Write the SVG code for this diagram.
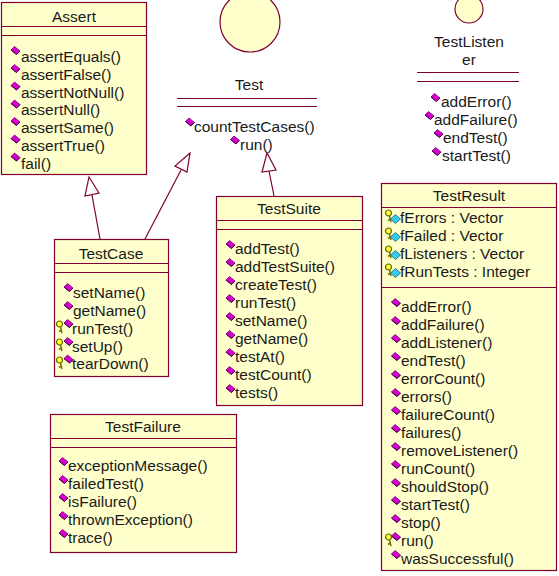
<svg xmlns="http://www.w3.org/2000/svg" width="559" height="576" viewBox="0 0 559 576">
<style>
.b{fill:#ffffcc;stroke:#800033;stroke-width:1.2}
.l{fill:none;stroke:#800033;stroke-width:1.2}
.h{fill:#fff;stroke:#800033;stroke-width:1.2}
text{font-family:"Liberation Sans",Arial,sans-serif;font-size:15.5px;fill:#1a1a1a}
.c{text-anchor:middle}
</style>
<defs>
<g id="op"><path d="M-4,0 L-0.500,-3.500 L5,1 L1.500,4.500 Z" fill="#d800d0" stroke="#700070" stroke-width="0.8"/><path d="M-4,0 L1.500,4.500 L5,1" fill="none" stroke="#400040" stroke-width="1"/></g>
<g id="attr"><path d="M-5,0 L0,-4.500 L5,0 L0,4.500 Z" fill="#33ccf0" stroke="#106080" stroke-width="0.8"/></g>
<g id="key"><circle cx="-0.500" cy="-3" r="3" fill="#ffff33" stroke="#666600" stroke-width="1.200"/><path d="M0.500,0 L2,6 M1.500,3 L-1,4.500" fill="none" stroke="#777700" stroke-width="1.600"/></g>
</defs>
<g id="connectors">
<path class="l" d="M100,239 L92,195"/><path class="h" d="M89,177 L85,196 L99,193 Z"/>
<path class="l" d="M145,239 L181,170"/><path class="h" d="M190,153 L175,166 L187,172 Z"/>
<path class="l" d="M274,196 L269,171"/><path class="h" d="M267,153 L262,172 L276,170 Z"/>
</g>
<g id="Assert">
<rect class="b" x="1.500" y="2.500" width="145" height="172"/>
<path class="l" d="M1.500,26.500H146.500M1.500,35.500H146.500"/>
<text class="c" x="74" y="22">Assert</text>
<use href="#op" x="15" y="50"/><text x="21" y="62">assertEquals()</text>
<use href="#op" x="15" y="68"/><text x="21" y="79.500">assertFalse()</text>
<use href="#op" x="15" y="85.500"/><text x="21" y="97.500">assertNotNull()</text>
<use href="#op" x="15" y="103.500"/><text x="21" y="115">assertNull()</text>
<use href="#op" x="15" y="121"/><text x="21" y="133">assertSame()</text>
<use href="#op" x="15" y="138.500"/><text x="21" y="151">assertTrue()</text>
<use href="#op" x="15" y="156.500"/><text x="21" y="168.500">fail()</text>
</g>
<g id="Test">
<circle class="b" cx="250" cy="22" r="30"/>
<path class="l" d="M177,98.500H317M177,106.500H317"/>
<text class="c" x="249" y="90">Test</text>
<use href="#op" x="189.500" y="121.500"/><text x="194" y="132">countTestCases()</text>
<use href="#op" x="234.500" y="139.500"/><text x="240" y="150">run()</text>
</g>
<g id="TestListener">
<circle class="b" cx="469" cy="9" r="14"/>
<text class="c" x="469" y="47">TestListen</text>
<text class="c" x="469" y="65">er</text>
<path class="l" d="M417,72.500H519M417,81.500H519"/>
<use href="#op" x="435" y="97"/><text x="441" y="106.500">addError()</text>
<use href="#op" x="429" y="115"/><text x="434" y="125">addFailure()</text>
<use href="#op" x="438" y="133"/><text x="443" y="143">endTest()</text>
<use href="#op" x="436" y="151"/><text x="442" y="161">startTest()</text>
</g>
<g id="TestCase">
<rect class="b" x="54.500" y="239.500" width="114" height="137"/>
<path class="l" d="M54.500,263.500H168.500M54.500,272.500H168.500"/>
<text class="c" x="111" y="259">TestCase</text>
<use href="#op" x="68" y="287"/><text x="73" y="298">setName()</text>
<use href="#op" x="68" y="305"/><text x="73" y="316">getName()</text>
<use href="#key" x="60" y="327"/><use href="#op" x="68" y="323"/><text x="72" y="333.500">runTest()</text>
<use href="#key" x="60" y="345"/><use href="#op" x="68" y="341"/><text x="72" y="351.500">setUp()</text>
<use href="#key" x="60" y="363"/><use href="#op" x="68" y="358.500"/><text x="72" y="369">tearDown()</text>
</g>
<g id="TestSuite">
<rect class="b" x="216.500" y="196.500" width="146" height="209"/>
<path class="l" d="M216.500,220.500H362.500M216.500,229.500H362.500"/>
<text class="c" x="289" y="214">TestSuite</text>
<use href="#op" x="230" y="244"/><text x="235" y="254">addTest()</text>
<use href="#op" x="230" y="262"/><text x="235" y="272">addTestSuite()</text>
<use href="#op" x="230" y="280"/><text x="235" y="290">createTest()</text>
<use href="#op" x="230" y="298"/><text x="235" y="308">runTest()</text>
<use href="#op" x="230" y="316"/><text x="235" y="326">setName()</text>
<use href="#op" x="230" y="334"/><text x="235" y="344">getName()</text>
<use href="#op" x="230" y="352"/><text x="235" y="362">testAt()</text>
<use href="#op" x="230" y="370"/><text x="235" y="380">testCount()</text>
<use href="#op" x="230" y="388"/><text x="235" y="398">tests()</text>
</g>
<g id="TestFailure">
<rect class="b" x="50.500" y="414.500" width="186" height="138"/>
<path class="l" d="M50.500,438.500H236.500M50.500,447.500H236.500"/>
<text class="c" x="143" y="432">TestFailure</text>
<use href="#op" x="63" y="461"/><text x="68" y="471">exceptionMessage()</text>
<use href="#op" x="63" y="479"/><text x="68" y="489">failedTest()</text>
<use href="#op" x="63" y="497"/><text x="68" y="507">isFailure()</text>
<use href="#op" x="63" y="515"/><text x="68" y="525">thrownException()</text>
<use href="#op" x="63" y="533"/><text x="68" y="543">trace()</text>
</g>
<g id="TestResult">
<rect class="b" x="381.500" y="183.500" width="175" height="387"/>
<path class="l" d="M381.500,207.500H556.500M381.500,287.500H556.500"/>
<text class="c" x="469" y="201">TestResult</text>
<use href="#key" x="389" y="216"/><use href="#attr" x="395.500" y="219"/><text x="400" y="223">fErrors : Vector</text>
<use href="#key" x="389" y="234"/><use href="#attr" x="395.500" y="237"/><text x="400" y="241">fFailed : Vector</text>
<use href="#key" x="389" y="252"/><use href="#attr" x="395.500" y="255"/><text x="400" y="259">fListeners : Vector</text>
<use href="#key" x="389" y="270"/><use href="#attr" x="395.500" y="273"/><text x="400" y="277">fRunTests : Integer</text>
<use href="#op" x="395.500" y="302"/><text x="401" y="312">addError()</text>
<use href="#op" x="395.500" y="320"/><text x="401" y="330">addFailure()</text>
<use href="#op" x="395.500" y="338"/><text x="401" y="348">addListener()</text>
<use href="#op" x="395.500" y="356"/><text x="401" y="366">endTest()</text>
<use href="#op" x="395.500" y="374"/><text x="401" y="384">errorCount()</text>
<use href="#op" x="395.500" y="392"/><text x="401" y="402">errors()</text>
<use href="#op" x="395.500" y="410"/><text x="401" y="420">failureCount()</text>
<use href="#op" x="395.500" y="428"/><text x="401" y="438">failures()</text>
<use href="#op" x="395.500" y="446"/><text x="401" y="456">removeListener()</text>
<use href="#op" x="395.500" y="464"/><text x="401" y="474">runCount()</text>
<use href="#op" x="395.500" y="482"/><text x="401" y="492">shouldStop()</text>
<use href="#op" x="395.500" y="500"/><text x="401" y="510">startTest()</text>
<use href="#op" x="395.500" y="518"/><text x="401" y="528">stop()</text>
<use href="#key" x="389" y="540"/><use href="#op" x="395.500" y="536"/><text x="401" y="546">run()</text>
<use href="#op" x="395.500" y="554"/><text x="401" y="564">wasSuccessful()</text>
</g>
</svg>
